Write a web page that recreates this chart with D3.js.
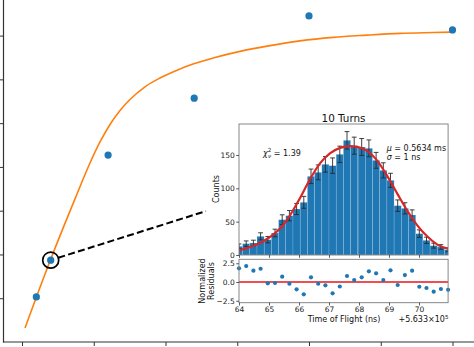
<!DOCTYPE html>
<html>
<head>
<meta charset="utf-8">
<script src="https://cdn.jsdelivr.net/npm/d3@7"></script>
<style>
  body { margin: 0; background: #fff; }
  svg { display: block; font-family: "DejaVu Sans", sans-serif; }
</style>
</head>
<body>
<svg id="chart" width="474" height="347"></svg>
<script>
// resolving power vs number of turns
const turns = [5, 10, 30, 60, 100, 150];
const resolving = [1.03, 1.87, 4.27, 5.57, 7.45, 7.13];

// model curve through the points
const fitTurns = [1.05, 9.76, 18.47, 23.69, 27.18, 30.66, 34.15, 37.63, 42.86, 48.08, 54.01,
                  59.58, 67.25, 75.96, 85.37, 96.86, 108.36, 120.21, 131.71, 143.21, 149.83];
const fitValues = [0.32, 1.85, 3.27, 4.09, 4.57, 4.97, 5.29, 5.54, 5.83, 6.03, 6.21,
                   6.35, 6.50, 6.64, 6.76, 6.88, 6.96, 7.01, 7.05, 7.07, 7.08];

const xTicks = [0, 25, 50, 75, 100, 125, 150];
const yTicks = [1, 2, 3, 4, 5, 6, 7];

// which point gets the zoomed histogram
const highlightTurns = 10;
const calloutEnd = [64.1, 2.99];

// 10-turn time of flight histogram (ns, offset by 5.633e5)
const binCenters = [64.00, 64.24, 64.48, 64.72, 64.96, 65.20, 65.44, 65.68, 65.92, 66.16,
                    66.40, 66.64, 66.88, 67.12, 67.36, 67.60, 67.84, 68.09, 68.33, 68.57,
                    68.81, 69.05, 69.29, 69.53, 69.77, 70.01, 70.25, 70.49, 70.73, 70.97];
const binWidth = 0.2403;
const counts = [13, 17, 18, 28, 23, 33, 53, 59, 69, 79,
                118, 124, 136, 134, 151, 172, 164, 162, 160, 142,
                127, 112, 74, 70, 60, 32, 22, 14, 12, 8];
const countErrors = [3.6, 4.1, 4.2, 5.3, 4.8, 5.7, 7.3, 7.7, 8.3, 8.9,
                     10.9, 11.1, 11.7, 11.6, 12.3, 13.1, 12.8, 12.7, 12.6, 11.9,
                     11.3, 10.6, 8.6, 8.4, 7.7, 5.7, 4.7, 3.7, 3.5, 2.8];
const residuals = [1.83, 2.13, 1.51, 1.77, -0.17, -0.13, 0.71, -0.23, -0.97, -1.64,
                   0.63, -0.23, -0.44, -1.51, -0.60, 0.80, 0.27, 0.63, 1.43, 1.16,
                   0.27, 1.56, -0.40, 0.93, 1.51, -0.63, -0.80, -1.29, -0.93, -1.03];

// gaussian fit
const gaussTof = [64.0, 64.37, 64.70, 65.03, 65.37, 65.70, 66.03, 66.37, 66.70, 67.03, 67.37,
                  67.67, 67.93, 68.27, 68.60, 68.93, 69.27, 69.60, 69.93, 70.27, 70.60, 70.97];
const gaussCounts = [7.0, 12.0, 18.0, 27.0, 39.6, 59.5, 85, 114, 137.5, 152.5, 160.7,
                     163.3, 162.2, 156.2, 142, 119.5, 92.5, 67, 45.3, 28, 16, 9.3];

const histTicks = [0, 50, 100, 150];
const residTicks = [-2.5, 0, 2.5];
const tofTicks = [64, 65, 66, 67, 68, 69, 70];

const blue = '#1f77b4', orange = '#ff7f0e';

const svg = d3.select('#chart');

// ---------- main axes ----------
const x = d3.scaleLinear().domain([0, 150]).range([22, 452.5]);
const y = d3.scaleLinear().domain([0, 7]).range([342, 35.6]);

const main = svg.append('g');

main.append('g')
    .attr('transform', 'translate(3.5,0)')
    .call(d3.axisLeft(y).tickValues(yTicks).tickFormat('').tickSize(3.5).tickSizeOuter(0))
    .call(g => g.select('.domain').remove())
    .call(g => g.selectAll('line').attr('stroke', '#333').attr('stroke-width', 1));

main.append('g')
    .attr('transform', 'translate(0,342)')
    .call(d3.axisBottom(x).tickValues(xTicks).tickFormat('').tickSize(4).tickSizeOuter(0))
    .call(g => g.select('.domain').remove())
    .call(g => g.selectAll('line').attr('stroke', '#333').attr('stroke-width', 1));

main.append('line').attr('x1', 3.5).attr('x2', 3.5).attr('y1', -1).attr('y2', 342.6)
    .attr('stroke', '#333').attr('stroke-width', 1.2);
main.append('line').attr('x1', 3).attr('x2', 475).attr('y1', 342).attr('y2', 342)
    .attr('stroke', '#333').attr('stroke-width', 1.2);

const fitLine = d3.line()
    .x((d, i) => x(fitTurns[i]))
    .y(d => y(d))
    .curve(d3.curveMonotoneX);

main.append('path')
    .attr('d', fitLine(fitValues))
    .attr('fill', 'none')
    .attr('stroke', orange)
    .attr('stroke-width', 1.6);

main.selectAll('circle.pt')
    .data(resolving)
    .join('circle')
    .attr('class', 'pt')
    .attr('cx', (d, i) => x(turns[i]))
    .attr('cy', d => y(d))
    .attr('r', 3.6)
    .attr('fill', blue);

// ring around the highlighted point and a dashed callout to the inset
const hi = turns.indexOf(highlightTurns);
const cx = x(turns[hi]), cy = y(resolving[hi]);
const ringR = 8;
const ex = x(calloutEnd[0]), ey = y(calloutEnd[1]);
const ang = Math.atan2(ey - cy, ex - cx);

main.append('circle')
    .attr('cx', cx).attr('cy', cy).attr('r', ringR)
    .attr('fill', 'none').attr('stroke', '#000').attr('stroke-width', 1.7);

main.append('line')
    .attr('x1', cx + ringR * Math.cos(ang)).attr('y1', cy + ringR * Math.sin(ang))
    .attr('x2', ex).attr('y2', ey)
    .attr('stroke', '#000').attr('stroke-width', 2)
    .attr('stroke-dasharray', '7,3.3');

// ---------- inset ----------
const hx = d3.scaleLinear().domain([64.0, 70.97]).range([239, 448.1]);
const hy = d3.scaleLinear().domain([0, 196.5]).range([255, 124]);
const ry = d3.scaleLinear().domain([-2.76, 3.03]).range([302.7, 259.3]);

const inset = svg.append('g');
const tickFont = 7.5;
const spineColor = '#7a7a7a';

inset.append('defs').append('clipPath').attr('id', 'histClip')
    .append('rect').attr('x', 239).attr('y', 124).attr('width', 448.1 - 239).attr('height', 131);

inset.append('rect').attr('x', 239).attr('y', 124).attr('width', 448.1 - 239).attr('height', 131).attr('fill', '#fff');
inset.append('rect').attr('x', 239).attr('y', 259.3).attr('width', 448.1 - 239).attr('height', 302.7 - 259.3).attr('fill', '#fff');

const hist = inset.append('g').attr('clip-path', 'url(#histClip)');

hist.selectAll('rect.bar')
    .data(counts)
    .join('rect')
    .attr('class', 'bar')
    .attr('x', (d, i) => hx(binCenters[i] - binWidth / 2))
    .attr('width', (d, i) => hx(binCenters[i] + binWidth / 2) - hx(binCenters[i] - binWidth / 2))
    .attr('y', d => hy(d))
    .attr('height', d => hy(0) - hy(d))
    .attr('fill', blue)
    .attr('stroke', 'rgba(255,255,255,0.35)')
    .attr('stroke-width', 0.5);

const err = hist.selectAll('g.err')
    .data(counts)
    .join('g')
    .attr('class', 'err')
    .attr('stroke', '#2a2a2a')
    .attr('stroke-width', 0.9);

err.append('line')
    .attr('x1', (d, i) => hx(binCenters[i])).attr('x2', (d, i) => hx(binCenters[i]))
    .attr('y1', (d, i) => hy(d - countErrors[i])).attr('y2', (d, i) => hy(d + countErrors[i]));
err.append('line')
    .attr('x1', (d, i) => hx(binCenters[i]) - 2.4).attr('x2', (d, i) => hx(binCenters[i]) + 2.4)
    .attr('y1', (d, i) => hy(d + countErrors[i])).attr('y2', (d, i) => hy(d + countErrors[i]));
err.append('line')
    .attr('x1', (d, i) => hx(binCenters[i]) - 2.4).attr('x2', (d, i) => hx(binCenters[i]) + 2.4)
    .attr('y1', (d, i) => hy(d - countErrors[i])).attr('y2', (d, i) => hy(d - countErrors[i]));

const gaussLine = d3.line()
    .x((d, i) => hx(gaussTof[i]))
    .y(d => hy(d))
    .curve(d3.curveMonotoneX);

hist.append('path')
    .attr('d', gaussLine(gaussCounts))
    .attr('fill', 'none')
    .attr('stroke', '#d62728')
    .attr('stroke-width', 2.2);

// residual panel
inset.append('line')
    .attr('x1', 239).attr('x2', 448.1)
    .attr('y1', ry(0)).attr('y2', ry(0))
    .attr('stroke', '#e8141c').attr('stroke-width', 1.5);

inset.selectAll('circle.res')
    .data(residuals)
    .join('circle')
    .attr('class', 'res')
    .attr('cx', (d, i) => hx(binCenters[i]))
    .attr('cy', d => ry(d))
    .attr('r', 2.1)
    .attr('fill', blue);

// spines
inset.append('rect').attr('x', 239).attr('y', 124).attr('width', 448.1 - 239).attr('height', 131)
    .attr('fill', 'none').attr('stroke', spineColor).attr('stroke-width', 0.9);
inset.append('rect').attr('x', 239).attr('y', 259.3).attr('width', 448.1 - 239).attr('height', 302.7 - 259.3)
    .attr('fill', 'none').attr('stroke', spineColor).attr('stroke-width', 0.9);

function styleAxis(g) {
    g.select('.domain').remove();
    g.selectAll('line').attr('stroke', '#333').attr('stroke-width', 0.8);
    g.selectAll('text')
        .attr('font-size', tickFont)
        .attr('font-family', '"DejaVu Sans", sans-serif')
        .attr('fill', '#1a1a1a');
}

inset.append('g')
    .attr('transform', 'translate(239,0)')
    .call(d3.axisLeft(hy).tickValues(histTicks).tickSize(2.8).tickPadding(1.5).tickSizeOuter(0))
    .call(styleAxis);

inset.append('g')
    .attr('transform', 'translate(0,255)')
    .call(d3.axisBottom(hx).tickValues(tofTicks).tickFormat('').tickSize(2.8).tickSizeOuter(0))
    .call(styleAxis);

inset.append('g')
    .attr('transform', 'translate(239,0)')
    .call(d3.axisLeft(ry).tickValues(residTicks).tickFormat(d => d3.format('.1f')(d).replace('-', '\u2212')).tickSize(2.8).tickPadding(1.5).tickSizeOuter(0))
    .call(styleAxis);

inset.append('g')
    .attr('transform', 'translate(0,302.7)')
    .call(d3.axisBottom(hx).tickValues(tofTicks).tickFormat(d3.format('d')).tickSize(2.8).tickPadding(1.2).tickSizeOuter(0))
    .call(styleAxis);

// labels and annotations
const txt = (sel, attrs) => {
    const t = sel.append('text').attr('font-size', 8).attr('fill', '#111');
    Object.entries(attrs).forEach(([k, v]) => t.attr(k, v));
    return t;
};

txt(inset, { x: 343.5, y: 121.8, 'text-anchor': 'middle', 'font-size': 10.4 }).text('10 Turns');

txt(inset, { transform: 'translate(219.3,189) rotate(-90)', 'text-anchor': 'middle' }).text('Counts');
txt(inset, { transform: 'translate(204.6,281) rotate(-90)', 'text-anchor': 'middle' }).text('Normalized');
txt(inset, { transform: 'translate(213.6,281) rotate(-90)', 'text-anchor': 'middle' }).text('Residuals');

txt(inset, { x: 344, y: 322, 'text-anchor': 'middle' }).text('Time of Flight (ns)');

const off = txt(inset, { x: 448.5, y: 322, 'text-anchor': 'end' });
off.append('tspan').text('+5.633\u00d710');
off.append('tspan').attr('dy', -3.5).attr('font-size', 5.6).text('5');

const chi = txt(inset, { x: 263, y: 155.5 });
chi.append('tspan').attr('font-style', 'italic').text('\u03c7');
chi.append('tspan').attr('dy', -3.3).attr('font-size', 5.6).text('2');
chi.append('tspan').attr('dx', -3.2).attr('dy', 5.8).attr('font-size', 5.6).attr('font-style', 'italic').text('\u03bd');
chi.append('tspan').attr('dy', -2.5).text(' = 1.39');

const mu = txt(inset, { x: 386.7, y: 150.8 });
mu.append('tspan').attr('font-style', 'italic').text('\u03bc');
mu.append('tspan').text(' = 0.5634 ms');

const sg = txt(inset, { x: 386.7, y: 160.3 });
sg.append('tspan').attr('font-style', 'italic').text('\u03c3');
sg.append('tspan').text(' = 1 ns');
</script>
</body>
</html>
